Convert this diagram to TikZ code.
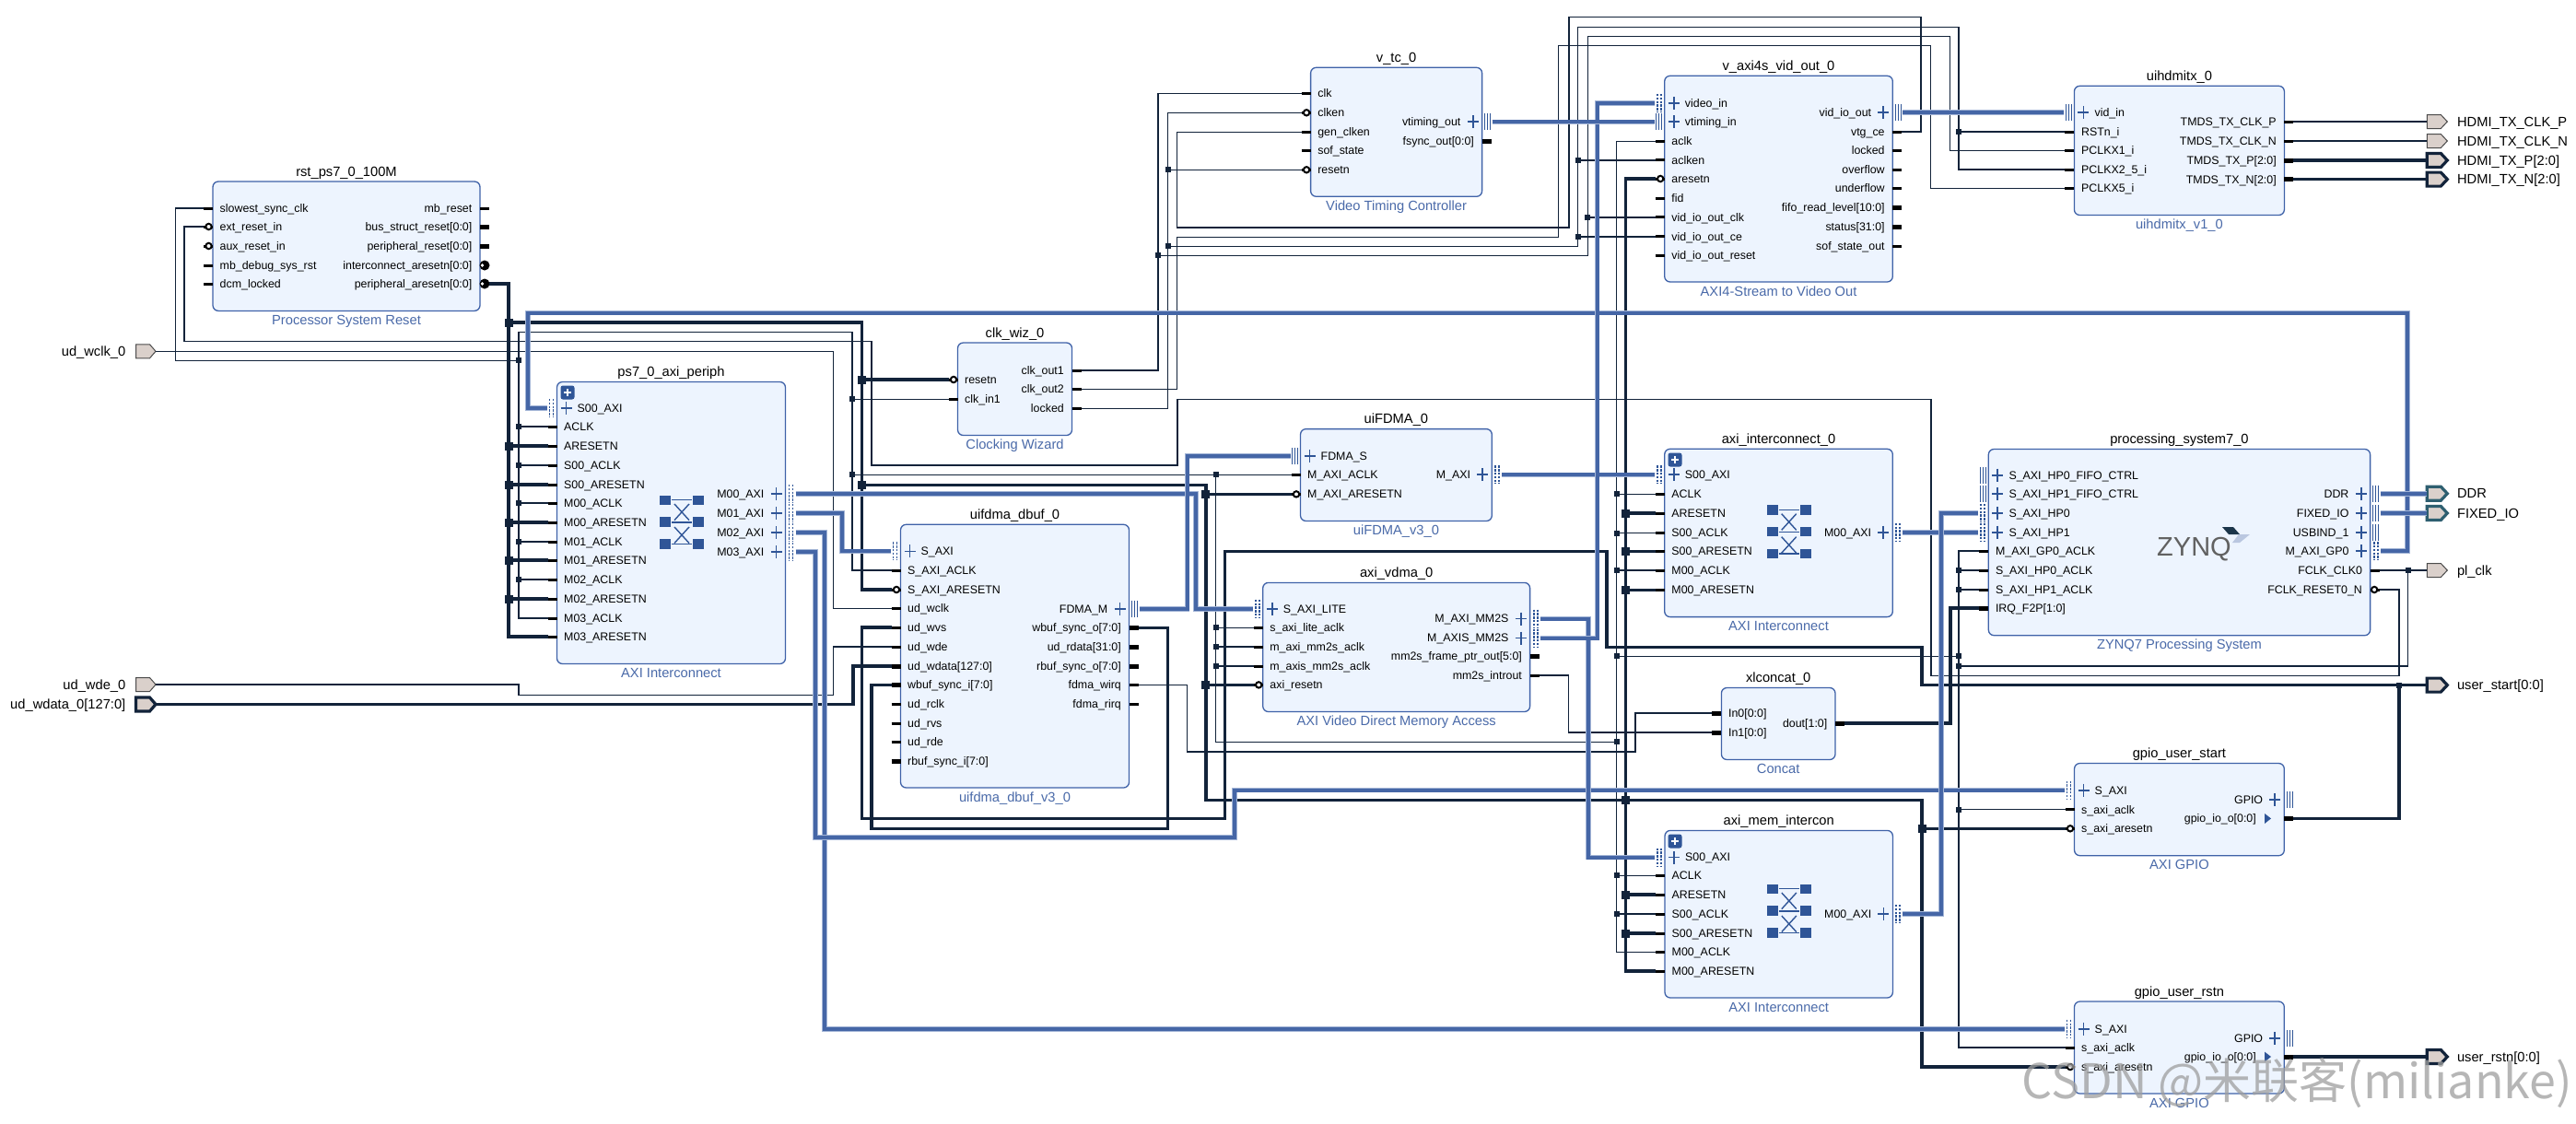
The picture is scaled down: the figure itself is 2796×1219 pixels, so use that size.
\documentclass[tikz,border=0pt]{standalone}
\usepackage{fontspec}
\setmainfont{Liberation Sans}
\newfontfamily\cjkf{Noto Sans CJK SC}
\catcode`\_=12
\definecolor{boxfill}{HTML}{EDF4FE}
\definecolor{boxline}{HTML}{3F62A8}
\definecolor{subtext}{HTML}{4A6AA9}
\definecolor{wirec}{HTML}{12233A}
\definecolor{bluew}{HTML}{4566A6}
\definecolor{bluel}{HTML}{A3B5D6}
\definecolor{pinblue}{HTML}{2F5597}
\definecolor{extfill}{HTML}{DAD0CB}
\definecolor{tealp}{HTML}{2E5F70}
\newcommand\flab{\fontsize{12.4pt}{14pt}\selectfont}
\newcommand\ftit{\fontsize{14.7pt}{17pt}\selectfont}
\tikzset{
  blockbox/.style={draw=boxline,fill=boxfill,line width=1.3pt,rounded corners=6pt,inner sep=0pt,rectangle},
  lab/.style={font=\flab,text=black,inner sep=0pt},
  titl/.style={font=\ftit,text=black,inner sep=0pt},
  subt/.style={font=\ftit,text=subtext,inner sep=0pt},
  stub/.style={line width=3pt,draw=black},
  bstub/.style={line width=5pt,draw=black},
  thinw/.style={draw=wirec,line width=1.6pt},
  thickw/.style={draw=wirec,line width=3.6pt},
  bluewire/.style={draw=bluew,line width=4pt,preaction={draw=bluel,line width=5.6pt}},
  plusp/.style={draw=pinblue,line width=1.8pt},
  dotp/.style={draw=pinblue,line width=1.9pt,dash pattern=on 2.4pt off 1.4pt},
  strp/.style={draw=pinblue,line width=1.5pt},
}
\newcommand\vblock[7]{%
  \node[blockbox,minimum width={(#4-#2)*1pt},minimum height={(#5-#3)*1pt}] (#1) at ({(#2+#4)/2},{(#3+#5)/2}) {};
  \node[titl,anchor=base] (#1t) at ({(#2+#4)/2},{#3-6}) {#6};
  \node[subt,anchor=base] (#1s) at ({(#2+#4)/2},{#5+15}) {#7};}
\newcommand\vlpin[4]{\coordinate (#1) at ({#2-10},#3);\draw[stub] ({#2-10},#3)--(#2,#3);
  \node[lab,anchor=base west] (#1l) at ({#2+7.5},{#3+4.4}) {#4};}
\newcommand\vlbus[4]{\coordinate (#1) at ({#2-10},#3);\draw[bstub] ({#2-10},#3)--(#2,#3);
  \node[lab,anchor=base west] (#1l) at ({#2+7.5},{#3+4.4}) {#4};}
\newcommand\vlneg[4]{\coordinate (#1) at ({#2-10},#3);\draw[stub] ({#2-10},#3)--(#2,#3);
  \draw[draw=black,line width=2pt,fill=white] ({#2-4.5},#3) circle (3.2pt);
  \node[lab,anchor=base west] (#1l) at ({#2+7.5},{#3+4.4}) {#4};}
\newcommand\vrpin[4]{\coordinate (#1) at ({#2+10},#3);\draw[stub] (#2,#3)--({#2+10},#3);
  \node[lab,anchor=base east] (#1l) at ({#2-8.5},{#3+4.4}) {#4};}
\newcommand\vrbus[4]{\coordinate (#1) at ({#2+10},#3);\draw[bstub] (#2,#3)--({#2+10},#3);
  \node[lab,anchor=base east] (#1l) at ({#2-8.5},{#3+4.4}) {#4};}
\newcommand\vrneg[4]{\coordinate (#1) at ({#2+10},#3);\draw[stub] (#2,#3)--({#2+10},#3);
  \draw[draw=black,line width=2pt,fill=white] ({#2+4.5},#3) circle (3.2pt);
  \node[lab,anchor=base east] (#1l) at ({#2-8.5},{#3+4.4}) {#4};}
\newcommand\vrnegb[4]{\coordinate (#1) at ({#2+10},#3);\draw[stub] (#2,#3)--({#2+10},#3);
  \fill[black] ({#2+5},#3) circle (5.5pt);\fill[white] ({#2+2.5},#3) circle (1.8pt);
  \node[lab,anchor=base east] (#1l) at ({#2-8.5},{#3+4.4}) {#4};}
\newcommand\vplus[2]{\draw[plusp] ({#1-6},#2)--({#1+6},#2) (#1,{#2-7})--(#1,{#2+7});}
\newcommand\vlaxi[4]{\coordinate (#1) at ({#2-11},#3);
  \draw[dotp] ({#2-8},{#3-10})--({#2-8},{#3+10}) ({#2-4},{#3-10})--({#2-4},{#3+10});
  \vplus{#2+10}{#3}\node[lab,anchor=base west] (#1l) at ({#2+22},{#3+4.4}) {#4};}
\newcommand\vlstr[4]{\coordinate (#1) at ({#2-11},#3);
  \draw[strp] ({#2-9},{#3-9})--({#2-9},{#3+9}) ({#2-6},{#3-9})--({#2-6},{#3+9}) ({#2-3},{#3-9})--({#2-3},{#3+9});
  \vplus{#2+10}{#3}\node[lab,anchor=base west] (#1l) at ({#2+22},{#3+4.4}) {#4};}
\newcommand\vraxi[4]{\coordinate (#1) at ({#2+11},#3);
  \draw[dotp] ({#2+8},{#3-10})--({#2+8},{#3+10}) ({#2+4},{#3-10})--({#2+4},{#3+10});
  \vplus{#2-10}{#3}\node[lab,anchor=base east] (#1l) at ({#2-23},{#3+4.4}) {#4};}
\newcommand\vrstr[4]{\coordinate (#1) at ({#2+11},#3);
  \draw[strp] ({#2+9},{#3-9})--({#2+9},{#3+9}) ({#2+6},{#3-9})--({#2+6},{#3+9}) ({#2+3},{#3-9})--({#2+3},{#3+9});
  \vplus{#2-10}{#3}\node[lab,anchor=base east] (#1l) at ({#2-23},{#3+4.4}) {#4};}
\newcommand\vjn[2]{\fill[wirec] ({#1-3},{#2-3}) rectangle ({#1+3},{#2+3});}
\newcommand\vjt[2]{\fill[wirec] ({#1-4.5},{#2-4.5}) rectangle ({#1+4.5},{#2+4.5});}
\newcommand\vexpb[2]{\fill[pinblue,rounded corners=2.5pt] ({#1-7.5},{#2-7.5}) rectangle ({#1+7.5},{#2+7.5});
  \draw[white,line width=2pt] ({#1-4},#2)--({#1+4},#2) (#1,{#2-4})--(#1,{#2+4});}
\newcommand\vxbar[2]{%
  \foreach \dx in {-24,12}{\foreach \dy in {-29.5,-6,18}{
    \fill[pinblue] ({#1+\dx},{#2+\dy}) rectangle ({#1+\dx+12},{#2+\dy+10.7});}}
  \draw[pinblue,line width=1.4pt] ({#1-11},{#2-24.4})--({#1+11},{#2-24.4}) ({#1-11},{#2})--({#1+11},{#2}) ({#1-11},{#2+23.4})--({#1+11},{#2+23.4});
  \draw[pinblue,line width=1.4pt] ({#1-8},{#2-20})--({#1+8},{#2-2.4}) ({#1+8},{#2-20})--({#1-8},{#2-2.4})
   ({#1-8},{#2+5})--({#1+8},{#2+22.5}) ({#1+8},{#2+5})--({#1-8},{#2+22.5});}
% in-port: name, left x, y, label, style
\newcommand\vinport[5]{\coordinate (#1) at ({#2+21.5},#3);
  \draw[#5,fill=extfill,line join=miter] (#2,{#3-7.5})--({#2+15},{#3-7.5})--({#2+21.5},#3)--({#2+15},{#3+7.5})--(#2,{#3+7.5})--cycle;
  \node[font=\ftit,inner sep=0pt,anchor=base east] (#1l) at ({#2-11},{#3+5.2}) {#4};}
\newcommand\voutport[5]{\coordinate (#1) at (#2,#3);
  \draw[#5,fill=extfill,line join=miter] (#2,{#3-7.5})--({#2+15},{#3-7.5})--({#2+22},#3)--({#2+15},{#3+7.5})--(#2,{#3+7.5})--cycle;
  \node[font=\ftit,inner sep=0pt,anchor=base west] (#1l) at ({#2+32.5},{#3+5.2}) {#4};}
\begin{document}
\begin{tikzpicture}[x=1pt,y=-1pt,
  pthin/.style={draw=black!70,line width=1pt},
  pthick/.style={draw=wirec,line width=3.2pt},
  pteal/.style={draw=tealp,line width=3.2pt}]
\useasboundingbox (0,0) rectangle (2796,1219);
\fill[white] (0,0) rectangle (2796,1219);
% ---- blocks
\vblock{rst}{231}{197}{521}{337.4}{rst_ps7_0_100M}{Processor System Reset}
\vlpin{rstslow}{231}{226}{slowest_sync_clk}
\vlneg{rstext}{231}{246}{ext_reset_in}
\vlneg{rstaux}{231}{267}{aux_reset_in}
\vlpin{rstdbg}{231}{288}{mb_debug_sys_rst}
\vlpin{rstdcm}{231}{308}{dcm_locked}
\vrpin{rstmb}{521}{226}{mb_reset}
\vrbus{rstbus}{521}{246}{bus_struct_reset[0:0]}
\vrbus{rstper}{521}{267}{peripheral_reset[0:0]}
\vrnegb{rstic}{521}{288}{interconnect_aresetn[0:0]}
\vrnegb{rstpa}{521}{308}{peripheral_aresetn[0:0]}

\vblock{per}{604.5}{414.5}{852.5}{720.5}{ps7_0_axi_periph}{AXI Interconnect}
\vexpb{616}{426}
\vlaxi{pers}{604.5}{443}{S00_AXI}
\vlpin{peraclk}{604.5}{463}{ACLK}
\vlpin{perarst}{604.5}{484}{ARESETN}
\vlpin{pers0clk}{604.5}{505}{S00_ACLK}
\vlpin{pers0rst}{604.5}{526}{S00_ARESETN}
\vlpin{perm0clk}{604.5}{546}{M00_ACLK}
\vlpin{perm0rst}{604.5}{567}{M00_ARESETN}
\vlpin{perm1clk}{604.5}{588}{M01_ACLK}
\vlpin{perm1rst}{604.5}{608}{M01_ARESETN}
\vlpin{perm2clk}{604.5}{629}{M02_ACLK}
\vlpin{perm2rst}{604.5}{650}{M02_ARESETN}
\vlpin{perm3clk}{604.5}{671}{M03_ACLK}
\vlpin{perm3rst}{604.5}{691}{M03_ARESETN}
\vraxi{perm0}{852.5}{536}{M00_AXI}
\vraxi{perm1}{852.5}{557}{M01_AXI}
\vraxi{perm2}{852.5}{578}{M02_AXI}
\vraxi{perm3}{852.5}{599}{M03_AXI}
\vxbar{740}{567}

\vblock{cw}{1039.5}{372}{1163.5}{472.5}{clk_wiz_0}{Clocking Wizard}
\vlneg{cwrst}{1039.5}{412}{resetn}
\vlpin{cwin}{1039.5}{433.4}{clk_in1}
\vrpin{cwo1}{1163.5}{402}{clk_out1}
\vrpin{cwo2}{1163.5}{422.3}{clk_out2}
\vrpin{cwlock}{1163.5}{443.3}{locked}

\vblock{tc}{1422.6}{73.3}{1608.6}{213.3}{v_tc_0}{Video Timing Controller}
\vlpin{tcclk}{1422.6}{101.3}{clk}
\vlneg{tcen}{1422.6}{122.3}{clken}
\vlpin{tcgen}{1422.6}{143.3}{gen_clken}
\vlpin{tcsof}{1422.6}{163.3}{sof_state}
\vlneg{tcrst}{1422.6}{184.3}{resetn}
\vrstr{tctim}{1608.6}{132.3}{vtiming_out}
\vrbus{tcfs}{1608.6}{153.3}{fsync_out[0:0]}

\vblock{vo}{1806.7}{82.3}{2054.3}{306}{v_axi4s_vid_out_0}{AXI4-Stream to Video Out}
\vlaxi{vovid}{1806.7}{112}{video_in}
\vlstr{votim}{1806.7}{132.3}{vtiming_in}
\vlpin{voclk}{1806.7}{153.3}{aclk}
\vlpin{voen}{1806.7}{173.7}{aclken}
\vlneg{vorst}{1806.7}{194}{aresetn}
\vlpin{vofid}{1806.7}{215}{fid}
\vlpin{vioclk}{1806.7}{235.7}{vid_io_out_clk}
\vlpin{vioce}{1806.7}{256.7}{vid_io_out_ce}
\vlpin{viorst}{1806.7}{277.3}{vid_io_out_reset}
\vrstr{vioout}{2054.3}{122}{vid_io_out}
\vrpin{vovtg}{2054.3}{143}{vtg_ce}
\vrpin{volock}{2054.3}{163.4}{locked}
\vrpin{voov}{2054.3}{184}{overflow}
\vrpin{voun}{2054.3}{204.5}{underflow}
\vrbus{vofifo}{2054.3}{225}{fifo_read_level[10:0]}
\vrbus{vostat}{2054.3}{246}{status[31:0]}
\vrpin{vosof}{2054.3}{267}{sof_state_out}

\vblock{hd}{2251.4}{93.3}{2479.4}{233.5}{uihdmitx_0}{uihdmitx_v1_0}
\vlstr{hdvid}{2251.4}{122}{vid_in}
\vlpin{hdrst}{2251.4}{143}{RSTn_i}
\vlpin{hdc1}{2251.4}{163.4}{PCLKX1_i}
\vlpin{hdc25}{2251.4}{184}{PCLKX2_5_i}
\vlpin{hdc5}{2251.4}{204.5}{PCLKX5_i}
\vrpin{hdcp}{2479.4}{132}{TMDS_TX_CLK_P}
\vrpin{hdcn}{2479.4}{153}{TMDS_TX_CLK_N}
\vrbus{hdp}{2479.4}{174}{TMDS_TX_P[2:0]}
\vrbus{hdn}{2479.4}{194.6}{TMDS_TX_N[2:0]}

\vblock{ps}{2158.3}{487.5}{2572.6}{689.7}{processing_system7_0}{ZYNQ7 Processing System}
\vlstr{psf0}{2158.3}{515.6}{S_AXI_HP0_FIFO_CTRL}
\vlstr{psf1}{2158.3}{535.7}{S_AXI_HP1_FIFO_CTRL}
\vlaxi{pshp0}{2158.3}{557}{S_AXI_HP0}
\vlaxi{pshp1}{2158.3}{577.7}{S_AXI_HP1}
\vlpin{psgpclk}{2158.3}{598.2}{M_AXI_GP0_ACLK}
\vlpin{pshp0clk}{2158.3}{619}{S_AXI_HP0_ACLK}
\vlpin{pshp1clk}{2158.3}{640}{S_AXI_HP1_ACLK}
\vlbus{psirq}{2158.3}{660}{IRQ_F2P[1:0]}
\vrstr{psddr}{2572.6}{535.7}{DDR}
\vrstr{psfix}{2572.6}{557}{FIXED_IO}
\vrstr{psusb}{2572.6}{577.7}{USBIND_1}
\vraxi{psgp}{2572.6}{598.2}{M_AXI_GP0}
\vrpin{psclk}{2572.6}{619}{FCLK_CLK0}
\vrneg{psrst}{2572.6}{640}{FCLK_RESET0_N}
\node[font=\fontsize{29pt}{30pt}\selectfont,text=black!62,inner sep=0pt,anchor=base west] (zynqlogo) at (2341,603) {ZYNQ};
\fill[wirec!70!tealp] (2412,572)--(2424,572)--(2431,580)--(2419,580)--cycle;
\fill[bluel!75!white] (2430,580)--(2442,580)--(2431,589)--(2423,589)--cycle;

\vblock{ic}{1806.7}{487.3}{2054.3}{669.6}{axi_interconnect_0}{AXI Interconnect}
\vexpb{1818}{499}
\vlaxi{ics}{1806.7}{515.3}{S00_AXI}
\vlpin{icaclk}{1806.7}{536.4}{ACLK}
\vlpin{icarst}{1806.7}{557}{ARESETN}
\vlpin{ics0clk}{1806.7}{578.5}{S00_ACLK}
\vlpin{ics0rst}{1806.7}{598.4}{S00_ARESETN}
\vlpin{icm0clk}{1806.7}{619}{M00_ACLK}
\vlpin{icm0rst}{1806.7}{640.5}{M00_ARESETN}
\vraxi{icm}{2054.3}{577.7}{M00_AXI}
\vxbar{1941.7}{577.7}

\vblock{fd}{1411.5}{465.6}{1619.3}{565.5}{uiFDMA_0}{uiFDMA_v3_0}
\vlstr{fds}{1411.5}{495}{FDMA_S}
\vlpin{fdclk}{1411.5}{515.3}{M_AXI_ACLK}
\vlneg{fdrst}{1411.5}{536.4}{M_AXI_ARESETN}
\vraxi{fdm}{1619.3}{515.3}{M_AXI}

\vblock{db}{977.5}{569.3}{1225.5}{855}{uifdma_dbuf_0}{uifdma_dbuf_v3_0}
\vlaxi{dbs}{977.5}{598.4}{S_AXI}
\vlpin{dbsclk}{977.5}{619}{S_AXI_ACLK}
\vlneg{dbsrst}{977.5}{640}{S_AXI_ARESETN}
\vlpin{dbwclk}{977.5}{660.4}{ud_wclk}
\vlpin{dbwvs}{977.5}{681}{ud_wvs}
\vlpin{dbwde}{977.5}{702}{ud_wde}
\vlbus{dbwdata}{977.5}{723}{ud_wdata[127:0]}
\vlbus{dbwsi}{977.5}{743.4}{wbuf_sync_i[7:0]}
\vlpin{dbrclk}{977.5}{764.4}{ud_rclk}
\vlpin{dbrvs}{977.5}{785}{ud_rvs}
\vlpin{dbrde}{977.5}{805.4}{ud_rde}
\vlbus{dbrsi}{977.5}{826.5}{rbuf_sync_i[7:0]}
\vrstr{dbm}{1225.5}{660.8}{FDMA_M}
\vrbus{dbwso}{1225.5}{681.4}{wbuf_sync_o[7:0]}
\vrbus{dbrd}{1225.5}{702}{ud_rdata[31:0]}
\vrbus{dbrso}{1225.5}{723}{rbuf_sync_o[7:0]}
\vrpin{dbwirq}{1225.5}{743.4}{fdma_wirq}
\vrpin{dbrirq}{1225.5}{764.4}{fdma_rirq}

\vblock{vd}{1370.7}{632.4}{1660.6}{772.5}{axi_vdma_0}{AXI Video Direct Memory Access}
\vlaxi{vdlite}{1370.7}{660.8}{S_AXI_LITE}
\vlpin{vdlclk}{1370.7}{681.4}{s_axi_lite_aclk}
\vlpin{vdmclk}{1370.7}{702}{m_axi_mm2s_aclk}
\vlpin{vdsclk}{1370.7}{723}{m_axis_mm2s_aclk}
\vlneg{vdrst}{1370.7}{743.4}{axi_resetn}
\vraxi{vdmm}{1660.6}{671.5}{M_AXI_MM2S}
\vraxi{vdms}{1660.6}{692.5}{M_AXIS_MM2S}
\vrbus{vdfp}{1660.6}{712.4}{mm2s_frame_ptr_out[5:0]}
\vrpin{vdint}{1660.6}{733}{mm2s_introut}

\vblock{cc}{1868.4}{746.5}{1992}{824.5}{xlconcat_0}{Concat}
\vlbus{cci0}{1868.4}{774}{In0[0:0]}
\vlbus{cci1}{1868.4}{795}{In1[0:0]}
\vrbus{ccd}{1992}{785}{dout[1:0]}

\vblock{gs}{2251.5}{828.5}{2479.3}{928.7}{gpio_user_start}{AXI GPIO}
\vlaxi{gss}{2251.5}{857.6}{S_AXI}
\vlpin{gsclk}{2251.5}{878.6}{s_axi_aclk}
\vlneg{gsrst}{2251.5}{899.3}{s_axi_aresetn}
\vrstr{gsg}{2479.3}{868}{GPIO}
\coordinate (gso) at (2489.3,888.4);\draw[bstub] (2479.3,888.4)--(gso);
\node[lab,anchor=base east] (gsol) at (2449,892.8) {gpio_io_o[0:0]};
\fill[pinblue] (2458,883)--(2465,888.4)--(2458,894)--cycle;

\vblock{mm}{1807}{901.4}{2054.4}{1083}{axi_mem_intercon}{AXI Interconnect}
\vexpb{1818}{913}
\vlaxi{mms}{1807}{930.5}{S00_AXI}
\vlpin{mmaclk}{1807}{950.4}{ACLK}
\vlpin{mmarst}{1807}{971}{ARESETN}
\vlpin{mms0clk}{1807}{992}{S00_ACLK}
\vlpin{mms0rst}{1807}{1013}{S00_ARESETN}
\vlpin{mmm0clk}{1807}{1033.5}{M00_ACLK}
\vlpin{mmm0rst}{1807}{1054}{M00_ARESETN}
\vraxi{mmm}{2054.4}{992}{M00_AXI}
\vxbar{1941.8}{989}

\vblock{gr}{2251.5}{1087}{2479.3}{1187}{gpio_user_rstn}{AXI GPIO}
\vlaxi{grs}{2251.5}{1116.7}{S_AXI}
\vlpin{grclk}{2251.5}{1137}{s_axi_aclk}
\vlneg{grrst}{2251.5}{1158}{s_axi_aresetn}
\vrstr{grg}{2479.3}{1127}{GPIO}
\coordinate (gro) at (2489.3,1147);\draw[bstub] (2479.3,1147)--(gro);
\node[lab,anchor=base east] (grol) at (2449,1151.4) {gpio_io_o[0:0]};
\fill[pinblue] (2458,1141.6)--(2465,1147)--(2458,1152.6)--cycle;

% ---- external ports
\vinport{pwclk}{147.5}{381.3}{ud_wclk_0}{pthin}
\vinport{pwde}{147.5}{743}{ud_wde_0}{pthin}
\vinport{pwdata}{147.5}{764.5}{ud_wdata_0[127:0]}{pthick}
\voutport{phcp}{2634.3}{132}{HDMI_TX_CLK_P}{pthin}
\voutport{phcn}{2634.3}{153}{HDMI_TX_CLK_N}{pthin}
\voutport{php}{2634.3}{174}{HDMI_TX_P[2:0]}{pthick}
\voutport{phn}{2634.3}{194.6}{HDMI_TX_N[2:0]}{pthick}
\voutport{pddr}{2634.3}{535.7}{DDR}{pteal}
\voutport{pfix}{2634.3}{557}{FIXED_IO}{pteal}
\voutport{ppl}{2634.3}{619}{pl_clk}{pthin}
\voutport{pust}{2634.3}{743.6}{user_start[0:0]}{pthick}
\voutport{purs}{2634.3}{1147}{user_rstn[0:0]}{pthick}

% ---- thin wires
\draw[thinw] (rstslow) -| (190.6,391.3) -- (563,391.3);
\draw[thinw] (perm3clk) -| (563,360.6) -| (925,619) -- (dbsclk);
\foreach \p/\y in {peraclk/463,pers0clk/505,perm0clk/546,perm1clk/588,perm2clk/629}{\draw[thinw] (563,\y) -- (\p);\vjn{563}{\y}}
\vjn{563}{391.3}
\draw[thinw] (925,433.4) -- (cwin);\vjn{925}{433.4}
\draw[thinw] (925,515.3) -- (fdclk);\vjn{925}{515.3}\vjn{1319.6}{515.3}
\draw[thinw] (1319.6,515.3) -- (1319.6,805.4) -- (1754.5,805.4);
\foreach \p/\y in {vdlclk/681.4,vdmclk/702,vdsclk/723}{\draw[thinw] (1319.6,\y) -- (\p);\vjn{1319.6}{\y}}
\draw[thinw] (voclk) -| (1754.5,1033.5) -- (mmm0clk);
\foreach \p/\y in {icaclk/536.4,ics0clk/578.5,icm0clk/619,mmaclk/950.4,mms0clk/992}{\draw[thinw] (1754.5,\y) -- (\p);\vjn{1754.5}{\y}}
\draw[thinw] (1754.5,712.4) -- (2126,712.4);\vjn{1754.5}{712.4}\vjn{2126}{712.4}\vjn{1754.5}{805.4}
\draw[thinw] (psgpclk) -| (2126,1137) -- (grclk);
\foreach \p/\y in {pshp0clk/619,pshp1clk/640,gsclk/878.6}{\draw[thinw] (2126,\y) -- (\p);\vjn{2126}{\y}}
\draw[thinw] (psclk) -- (ppl);
\draw[thinw] (2613.5,619) -- (2613.5,723) -- (2126,723);\vjn{2613.5}{619}\vjn{2126}{723}
\draw[thinw] (rstext) -| (200,370.6) -| (946,505) -| (1277.7,433.4) -| (2096,733.5) -| (2603.7,640) -- (psrst);
\draw[thinw] (pwclk) -| (904.6,660.4) -- (dbwclk);
\draw[thinw] (pwde) -| (563,754.5) -| (904.6,702) -- (dbwde);
\draw[thinw] (dbwirq) -| (1288.6,816) -| (1774.8,774) -- (cci0);
\draw[thinw] (vdint) -| (1702.5,795) -- (cci1);
% video clocks
\draw[thinw] (tcclk) -| (1256.7,402) -- (cwo1);
\draw[thinw] (1256.7,277.3) -- (1723.4,277.3) -- (1723.4,39.3) -| (2116.6,163.4) -- (hdc1);\vjn{1256.7}{277.3}
\draw[thinw] (1723.4,235.7) -- (vioclk);\vjn{1723.4}{235.7}
\draw[thinw] (tcen) -| (1267.6,443.3) -- (cwlock);
\draw[thinw] (1267.6,184.3) -- (tcrst);\vjn{1267.6}{184.3}
\draw[thinw] (1267.6,267.3) -- (1712.5,267.3) -- (1712.5,29.3) -| (2126,184) -- (hdc25);\vjn{1267.6}{267.3}
\draw[thinw] (2126,143) -- (hdrst);\vjn{2126}{143}
\draw[thinw] (1712.5,173.7) -- (voen);\vjn{1712.5}{173.7}
\draw[thinw] (1712.5,256.7) -- (vioce);\vjn{1712.5}{256.7}
\draw[thinw] (tcgen) -| (1277.4,246.7) -| (1702.8,18.3) -| (2085,143) -- (vovtg);
\draw[thinw] (cwo2) -| (1277.4,257.3) -| (1691.3,49.3) -| (2095.4,204.5) -- (hdc5);
\draw[thinw] (hdcp) -- (phcp);
\draw[thinw] (hdcn) -- (phcn);
% ---- thick wires
\draw[thickw] (rstpa) -| (552,691) -- (perm3rst);
\foreach \p/\y in {perarst/484,pers0rst/526,perm0rst/567,perm1rst/608,perm2rst/650}{\draw[thickw] (552,\y) -- (\p);\vjt{552}{\y}}
\draw[thickw] (552,350) -- (935.6,350) -- (935.6,640) -- (dbsrst);\vjt{552}{350}
\draw[thickw] (935.6,412) -- (cwrst);\vjt{935.6}{412}
\draw[thickw] (935.6,526.4) -| (1308.7,868.6) -- (2086,868.6) -- (2086,1158) -- (grrst);\vjt{935.6}{526.4}
\draw[thickw] (1308.7,536.4) -- (fdrst);\vjt{1308.7}{536.4}
\draw[thickw] (1308.7,743.4) -- (vdrst);\vjt{1308.7}{743.4}
\draw[thickw] (2086,899.3) -- (gsrst);\vjt{2086}{899.3}
\draw[thickw] (vorst) -| (1764.5,1054) -- (mmm0rst);
\foreach \p/\y in {icarst/557,ics0rst/598.4,icm0rst/640.5,mmarst/971,mms0rst/1013}{\draw[thickw] (1764.5,\y) -- (\p);\vjt{1764.5}{\y}}
\vjt{1764.5}{868.6}
\draw[thickw] (dbwvs) -| (935.6,888.4) -| (1329.4,598.4) -| (1744,702.6) -| (2086,743.6) -- (pust);
\draw[thickw] (2603.7,743.6) |- (gso);\vjn{2603.7}{743.6}
\draw[thickw] (dbwso) -| (1267.4,899.5) -| (946,743.4) -- (dbwsi);
\draw[thickw] (pwdata) -| (926,723) -- (dbwdata);
\draw[thickw] (ccd) -| (2117,660) -- (psirq);
\draw[thickw] (gro) -- (purs);
\draw[thickw] (hdp) -- (php);
\draw[thickw] (hdn) -- (phn);
% ---- AXI wires
\draw[bluewire] (pers) -| (573,339.5) -| (2613,598.2) -- (psgp);
\draw[bluewire] (perm0) -| (1298,660.8) -- (vdlite);
\draw[bluewire] (perm1) -| (914,598.4) -- (dbs);
\draw[bluewire] (perm2) -| (894.8,1116.7) -- (grs);
\draw[bluewire] (perm3) -| (885,909) -| (1339.7,857.6) -- (gss);
\draw[bluewire] (dbm) -| (1288.6,495) -- (fds);
\draw[bluewire] (fdm) -- (ics);
\draw[bluewire] (vdmm) -| (1724,930.5) -- (mms);
\draw[bluewire] (vdms) -| (1733.5,112) -- (vovid);
\draw[bluewire] (tctim) -- (votim);
\draw[bluewire] (vioout) -- (hdvid);
\draw[bluewire] (icm) -- (pshp1);
\draw[bluewire] (mmm) -| (2107,557) -- (pshp0);
\draw[bluewire] (psddr) -- (pddr);
\draw[bluewire] (psfix) -- (pfix);
% ---- watermark
\node[font=\cjkf\fontsize{52pt}{56pt}\selectfont,text=black!38,opacity=.75,inner sep=0pt,anchor=base east] (wmark) at (2792,1192) {CSDN @米联客(milianke)};
\end{tikzpicture}
\end{document}
